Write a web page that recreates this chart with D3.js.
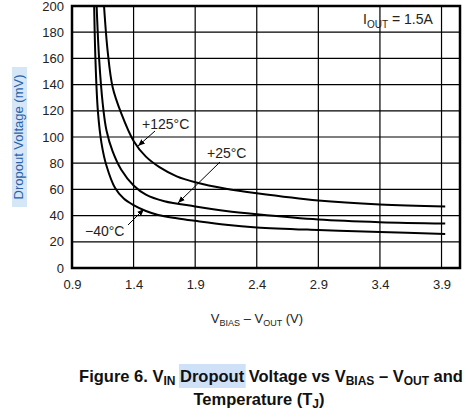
<!DOCTYPE html>
<html>
<head>
<meta charset="utf-8">
<script src="https://cdn.jsdelivr.net/npm/d3@7"></script>
<style>
body { margin: 0; background: #fff; }
svg { font-family: "Liberation Sans", Arial, sans-serif; }
</style>
</head>
<body>
<div id="chart"></div>
<script>
const xTicks = [0.9, 1.4, 1.9, 2.4, 2.9, 3.4, 3.9];
const yTicks = [0, 20, 40, 60, 80, 100, 120, 140, 160, 180, 200];

const vbiasM40 = [1.08, 1.09, 1.11, 1.14, 1.18, 1.25, 1.32, 1.4, 1.5, 1.6, 1.75, 1.9, 2.15, 2.4, 2.9, 3.4, 3.93];
const dropM40 = [200, 160, 120, 95, 78, 61, 53, 48, 43.5, 40.5, 38, 36, 33, 31, 29, 27.5, 26];
const vbias25 = [1.10, 1.12, 1.15, 1.18, 1.23, 1.3, 1.4, 1.5, 1.65, 1.9, 2.15, 2.4, 2.9, 3.4, 3.93];
const drop25 = [200, 160, 125, 105, 89, 75, 63, 56, 51, 47, 43.5, 41, 37, 35, 34];
const vbias125 = [1.16, 1.19, 1.23, 1.3, 1.4, 1.5, 1.61, 1.75, 1.9, 2.15, 2.4, 2.9, 3.4, 3.93];
const drop125 = [200, 165, 138, 118, 97, 85, 77, 70, 65.5, 60.5, 57, 51.5, 48.5, 47];

const series = [
  { name: "-40°C", x: vbiasM40, y: dropM40 },
  { name: "+25°C", x: vbias25, y: drop25 },
  { name: "+125°C", x: vbias125, y: drop125 }
];

const W = 474, H = 412;
const margin = { top: 6, left: 72, right: 14, bottom: 144 };

const svg = d3.select("#chart").append("svg").attr("width", W).attr("height", H);

const x = d3.scaleLinear().domain([0.9, 4.05]).range([margin.left, W - margin.right]);
const y = d3.scaleLinear().domain([0, 200]).range([H - margin.bottom, margin.top]);

// grid
svg.append("g").selectAll("line").data(xTicks.slice(1)).join("line")
  .attr("x1", d => x(d)).attr("x2", d => x(d))
  .attr("y1", y(0)).attr("y2", y(200))
  .attr("stroke", "#000").attr("stroke-width", 1.2);
svg.append("g").selectAll("line").data(yTicks.slice(1)).join("line")
  .attr("x1", x(0.9)).attr("x2", x(4.05))
  .attr("y1", d => y(d)).attr("y2", d => y(d))
  .attr("stroke", "#000").attr("stroke-width", 1.2);

svg.append("rect")
  .attr("x", x(0.9)).attr("y", y(200))
  .attr("width", x(4.05) - x(0.9)).attr("height", y(0) - y(200))
  .attr("fill", "none").attr("stroke", "#000").attr("stroke-width", 2.5);

// axes
const xAxis = svg.append("g").attr("transform", `translate(0,${y(0)})`)
  .call(d3.axisBottom(x).tickValues(xTicks).tickSize(0).tickPadding(12).tickFormat(d3.format(".1f")));
const yAxis = svg.append("g").attr("transform", `translate(${x(0.9)},0)`)
  .call(d3.axisLeft(y).tickValues(yTicks).tickSize(0).tickPadding(8));
[xAxis, yAxis].forEach(a => {
  a.select(".domain").remove();
  a.selectAll("text").attr("font-size", 13).attr("fill", "#222")
    .attr("font-family", "Liberation Sans, Arial, sans-serif");
});

// curves
const defs = svg.append("defs");
defs.append("clipPath").attr("id", "clip").append("rect")
  .attr("x", x(0.9)).attr("y", y(200)).attr("width", x(4.05) - x(0.9)).attr("height", y(0) - y(200));

const line = d3.line().curve(d3.curveCatmullRom.alpha(0.5));
svg.append("g").attr("clip-path", "url(#clip)").selectAll("path").data(series).join("path")
  .attr("d", s => line(s.x.map((v, i) => [x(v), y(s.y[i])])))
  .attr("fill", "none").attr("stroke", "#000").attr("stroke-width", 2);

// arrows
defs.append("marker").attr("id", "arr").attr("viewBox", "0 0 10 10")
  .attr("refX", 10).attr("refY", 5).attr("markerWidth", 7).attr("markerHeight", 7)
  .attr("orient", "auto")
  .append("path").attr("d", "M0,1 L10,5 L0,9 z").attr("fill", "#000");

const labels = [
  { t: "+125°C", tx: 142, ty: 129, a: [[155, 131], [138, 146]] },
  { t: "+25°C", tx: 207, ty: 158, a: [[220, 162], [178, 203]] },
  { t: "\u221240°C", tx: 85, ty: 236, a: [[128, 225], [144, 209]] }
];
labels.forEach(l => {
  svg.append("text").attr("x", l.tx).attr("y", l.ty).attr("font-size", 14).attr("fill", "#222").text(l.t);
  svg.append("line").attr("x1", l.a[0][0]).attr("y1", l.a[0][1])
    .attr("x2", l.a[1][0]).attr("y2", l.a[1][1])
    .attr("stroke", "#000").attr("stroke-width", 1).attr("marker-end", "url(#arr)");
});

const iout = svg.append("text").attr("x", 363).attr("y", 24).attr("font-size", 14).attr("fill", "#222");
iout.append("tspan").text("I");
iout.append("tspan").attr("font-size", 10).attr("dy", 4).text("OUT");
iout.append("tspan").attr("dy", -4).text(" = 1.5A");

// y label
const yl = svg.append("g").attr("transform", `translate(23,${(y(0) + y(200)) / 2}) rotate(-90)`);
yl.append("rect").attr("x", -70).attr("y", -11).attr("width", 140).attr("height", 15).attr("fill", "#d5e6f7");
yl.append("text").attr("text-anchor", "middle").attr("font-size", 13).attr("fill", "#2a62a8")
  .text("Dropout Voltage (mV)");

// x label
const xl = svg.append("text").attr("x", 257).attr("y", 323).attr("text-anchor", "middle")
  .attr("font-size", 13).attr("fill", "#222");
xl.append("tspan").text("V");
xl.append("tspan").attr("font-size", 9).attr("dy", 3).text("BIAS");
xl.append("tspan").attr("dy", -3).text(" \u2013 V");
xl.append("tspan").attr("font-size", 9).attr("dy", 3).text("OUT");
xl.append("tspan").attr("dy", -3).text(" (V)");

// caption
const hl = svg.append("rect").attr("y", 364).attr("height", 24).attr("fill", "#cfe1f7");
const c1 = svg.append("text").attr("x", 271).attr("y", 382).attr("text-anchor", "middle")
  .attr("font-size", 16.5).attr("font-weight", "bold").attr("fill", "#111");
c1.append("tspan").text("Figure 6. V");
c1.append("tspan").attr("font-size", 12).attr("dy", 3).text("IN");
const dropout = c1.append("tspan").attr("dy", -3).text(" Dropout");
c1.append("tspan").text(" Voltage vs V");
c1.append("tspan").attr("font-size", 12).attr("dy", 3).text("BIAS");
c1.append("tspan").attr("dy", -3).text("  \u2013 V");
c1.append("tspan").attr("font-size", 12).attr("dy", 3).text("OUT");
c1.append("tspan").attr("dy", -3).text(" and");
const bb = dropout.node().getBBox();
const sp = 4.5;
hl.attr("x", bb.x + sp - 1).attr("width", bb.width - sp + 2);

const c2 = svg.append("text").attr("x", 259).attr("y", 405).attr("text-anchor", "middle")
  .attr("font-size", 16.5).attr("font-weight", "bold").attr("fill", "#111");
c2.append("tspan").text("Temperature (T");
c2.append("tspan").attr("font-size", 12).attr("dy", 3).text("J");
c2.append("tspan").attr("dy", -3).text(")");
</script>
</body>
</html>
